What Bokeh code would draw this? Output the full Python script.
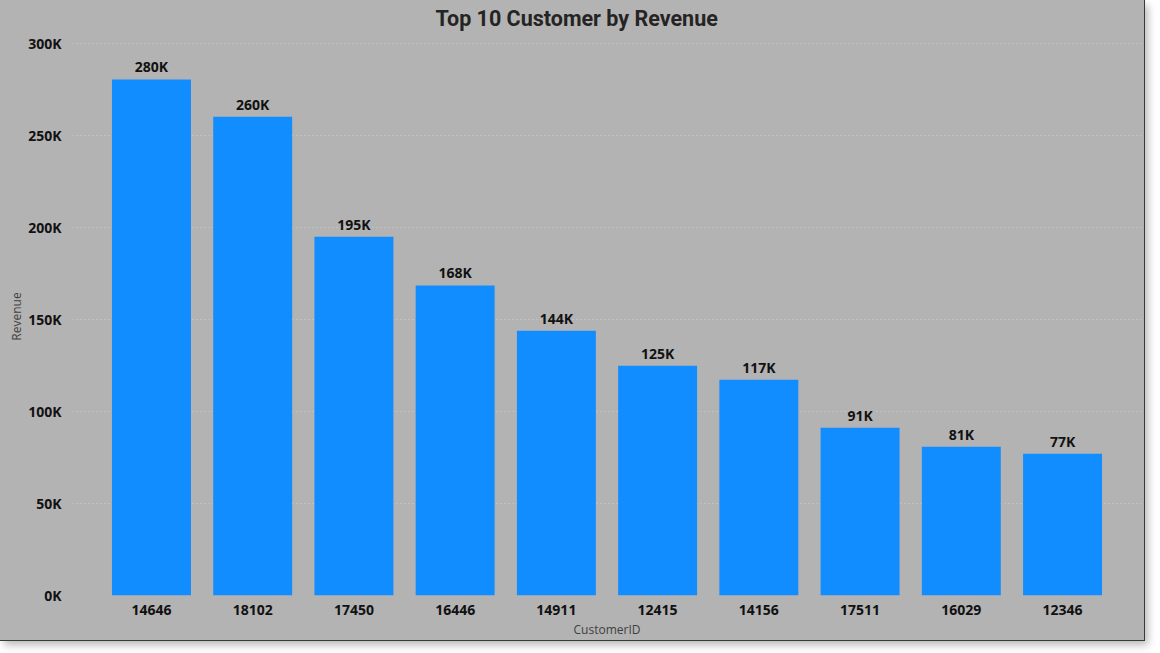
from bokeh.plotting import figure
from bokeh.models import ColumnDataSource, FactorRange, FixedTicker, LabelSet, Title
from bokeh.core.properties import value
from bokeh.embed import file_html
from bokeh.resources import INLINE

customer_ids = ["14646", "18102", "17450", "16446", "14911", "12415", "14156", "17511", "16029", "12346"]
revenue = [280200, 259900, 194800, 168400, 143800, 124800, 117200, 91100, 80800, 77000]
y_ticks = [0, 50000, 100000, 150000, 200000, 250000, 300000]
y_tick_labels = ["0K", "50K", "100K", "150K", "200K", "250K", "300K"]
bar_labels = [f"{round(v / 1000)}K" for v in revenue]

title_text = "Top 10 Customer by Revenue"
x_title = "CustomerID"
y_title = "Revenue"

BG = "#b3b3b3"
BAR = "#118dff"

source = ColumnDataSource(dict(cid=customer_ids, rev=revenue, lab=bar_labels))

p = figure(
    x_range=FactorRange(factors=customer_ids, range_padding=0.28, range_padding_units="absolute"),
    y_range=(0, 303000),
    width=1144, height=640,
    output_backend="svg", toolbar_location=None,
    min_border_left=72, min_border_right=3, min_border_top=37, min_border_bottom=44,
)
p.styles = {"background-color": BG,
            "box-shadow": "0 0 0 1px #3a3a3a, 4px 5px 8px rgba(0,0,0,0.28)"}
p.background_fill_color = BG
p.border_fill_color = BG
p.outline_line_color = None

p.vbar(x="cid", top="rev", width=0.78, source=source, fill_color=BAR, line_color=None)

labels = LabelSet(x="cid", y="rev", text="lab", source=source, text_align="center",
                  text_baseline="bottom", y_offset=3, text_font=value("Open Sans"),
                  text_font_style="bold", text_font_size="14px", text_color="#111111")
p.add_layout(labels)

p.xgrid.grid_line_color = None
p.ygrid.grid_line_color = "#cdcdcd"
p.ygrid.grid_line_dash = "1 3"
p.ygrid.grid_line_width = 1

p.yaxis.ticker = FixedTicker(ticks=y_ticks)
p.yaxis.major_label_overrides = {t: l for t, l in zip(y_ticks, y_tick_labels)}
for ax in (p.xaxis, p.yaxis):
    ax.axis_line_color = None
    ax.major_tick_line_color = None
    ax.minor_tick_line_color = None
    ax.major_tick_out = 0
    ax.major_tick_in = 0
    ax.minor_tick_out = 0
    ax.minor_tick_in = 0
    ax.major_label_text_font = "Open Sans"
    ax.major_label_text_font_style = "bold"
    ax.major_label_text_font_size = "14px"
    ax.major_label_text_color = "#111111"
    ax.axis_label_text_font = "Open Sans"
    ax.axis_label_text_font_style = "normal"
    ax.axis_label_text_font_size = "12px"
    ax.axis_label_text_color = "#404040"
p.yaxis.major_label_standoff = 11
p.yaxis.axis_label_standoff = 0
p.xaxis.major_label_standoff = 9
p.xaxis.axis_label_standoff = 3
p.xaxis.axis_label = x_title
p.yaxis.axis_label = y_title

title = Title(text=title_text, align="left", offset=363, vertical_align="top", standoff=9,
              text_font="Roboto", text_font_style="bold", text_font_size="21.5px",
              text_color="#252423")
p.add_layout(title, "above")

open("out.html", "w").write(file_html(p, INLINE))
